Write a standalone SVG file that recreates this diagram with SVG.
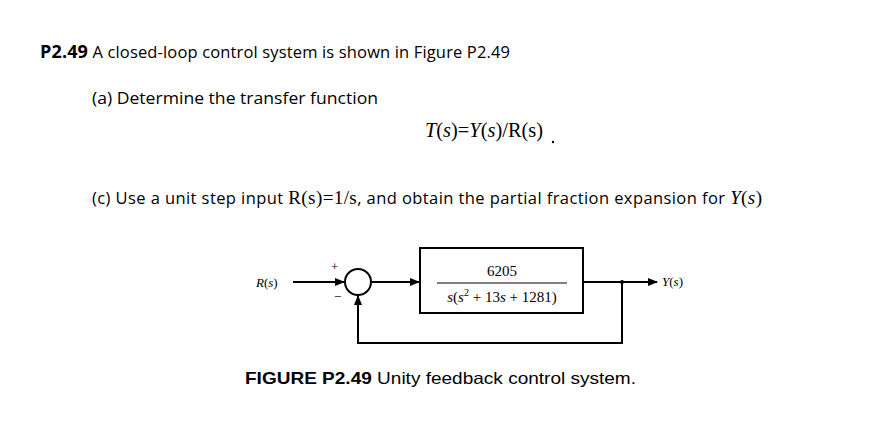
<svg xmlns="http://www.w3.org/2000/svg" width="869" height="447" viewBox="0 0 869 447">
<style>
.s{font-family:"Open Sans","Liberation Sans",sans-serif;fill:#000}
.t{font-family:"Liberation Serif",serif;fill:#000}
.l{stroke:#000;stroke-width:2;fill:none}
</style>
<defs><marker id="a" markerWidth="10" markerHeight="8" refX="9" refY="4" orient="auto" markerUnits="userSpaceOnUse"><path d="M0,0L10,4L0,8z" fill="#000"/></marker></defs>
<rect width="869" height="447" fill="#fff"/>
<text class="s" x="40" y="58" font-size="16.5" textLength="470" lengthAdjust="spacing"><tspan font-weight="bold" font-size="18">P2.49</tspan> A closed-loop control system is shown in Figure P2.49</text>
<text class="s" x="92" y="104" font-size="16.5" textLength="286" lengthAdjust="spacingAndGlyphs">(a)  Determine the transfer function</text>
<text class="t" x="425" y="137" font-size="20" textLength="118" lengthAdjust="spacingAndGlyphs"><tspan font-style="italic">T</tspan>(<tspan font-style="italic">s</tspan>)=<tspan font-style="italic">Y</tspan>(<tspan font-style="italic">s</tspan>)/R(s)</text>
<circle cx="553" cy="142" r="1.2" fill="#000"/>
<text class="s" x="92" y="204" font-size="16.5" textLength="670" lengthAdjust="spacing">(c)  Use a unit step input <tspan class="t" font-size="19">R(s)=1/s</tspan>, and obtain the partial fraction expansion for <tspan class="t" font-size="19" font-style="italic">Y</tspan><tspan class="t" font-size="19">(<tspan font-style="italic">s</tspan>)</tspan></text>
<g id="sum"><circle cx="358" cy="282" r="13" class="l" stroke-width="1.5"/>
<text class="t" x="331" y="271" font-size="13">+</text><text class="t" x="334" y="301" font-size="13">−</text></g>
<g id="plant"><rect x="420" y="248" width="163" height="65" class="l"/>
<text class="t" x="502" y="276" font-size="15" text-anchor="middle">6205</text>
<line x1="437" y1="283" x2="567" y2="283" stroke="#000" stroke-width="1"/>
<text class="t" x="502" y="302" font-size="15" text-anchor="middle"><tspan font-style="italic">s</tspan>(<tspan font-style="italic">s</tspan><tspan dy="-6" font-size="10">2</tspan><tspan dy="6"> + 13</tspan><tspan font-style="italic">s</tspan> + 1281)</text></g>
<g id="labels"><text class="t" x="256" y="287" font-size="13"><tspan font-style="italic">R</tspan>(<tspan font-style="italic">s</tspan>)</text>
<text class="t" x="662" y="286" font-size="13"><tspan font-style="italic">Y</tspan>(<tspan font-style="italic">s</tspan>)</text></g>
<g id="connectors">
<line x1="293" y1="282" x2="344" y2="282" class="l" marker-end="url(#a)"/>
<line x1="371" y1="282" x2="419" y2="282" class="l" marker-end="url(#a)"/>
<line x1="583" y1="282" x2="657" y2="282" class="l" marker-end="url(#a)"/>
<circle cx="622" cy="282" r="2" fill="#000"/>
<polyline points="622,282 622,343 358,343 358,296" class="l" marker-end="url(#a)"/>
</g>
<text x="245" y="384" font-size="16.5" style="font-family:'Liberation Sans',sans-serif" textLength="391" lengthAdjust="spacingAndGlyphs"><tspan font-weight="bold">FIGURE P2.49</tspan>   Unity feedback control system.</text>
</svg>
